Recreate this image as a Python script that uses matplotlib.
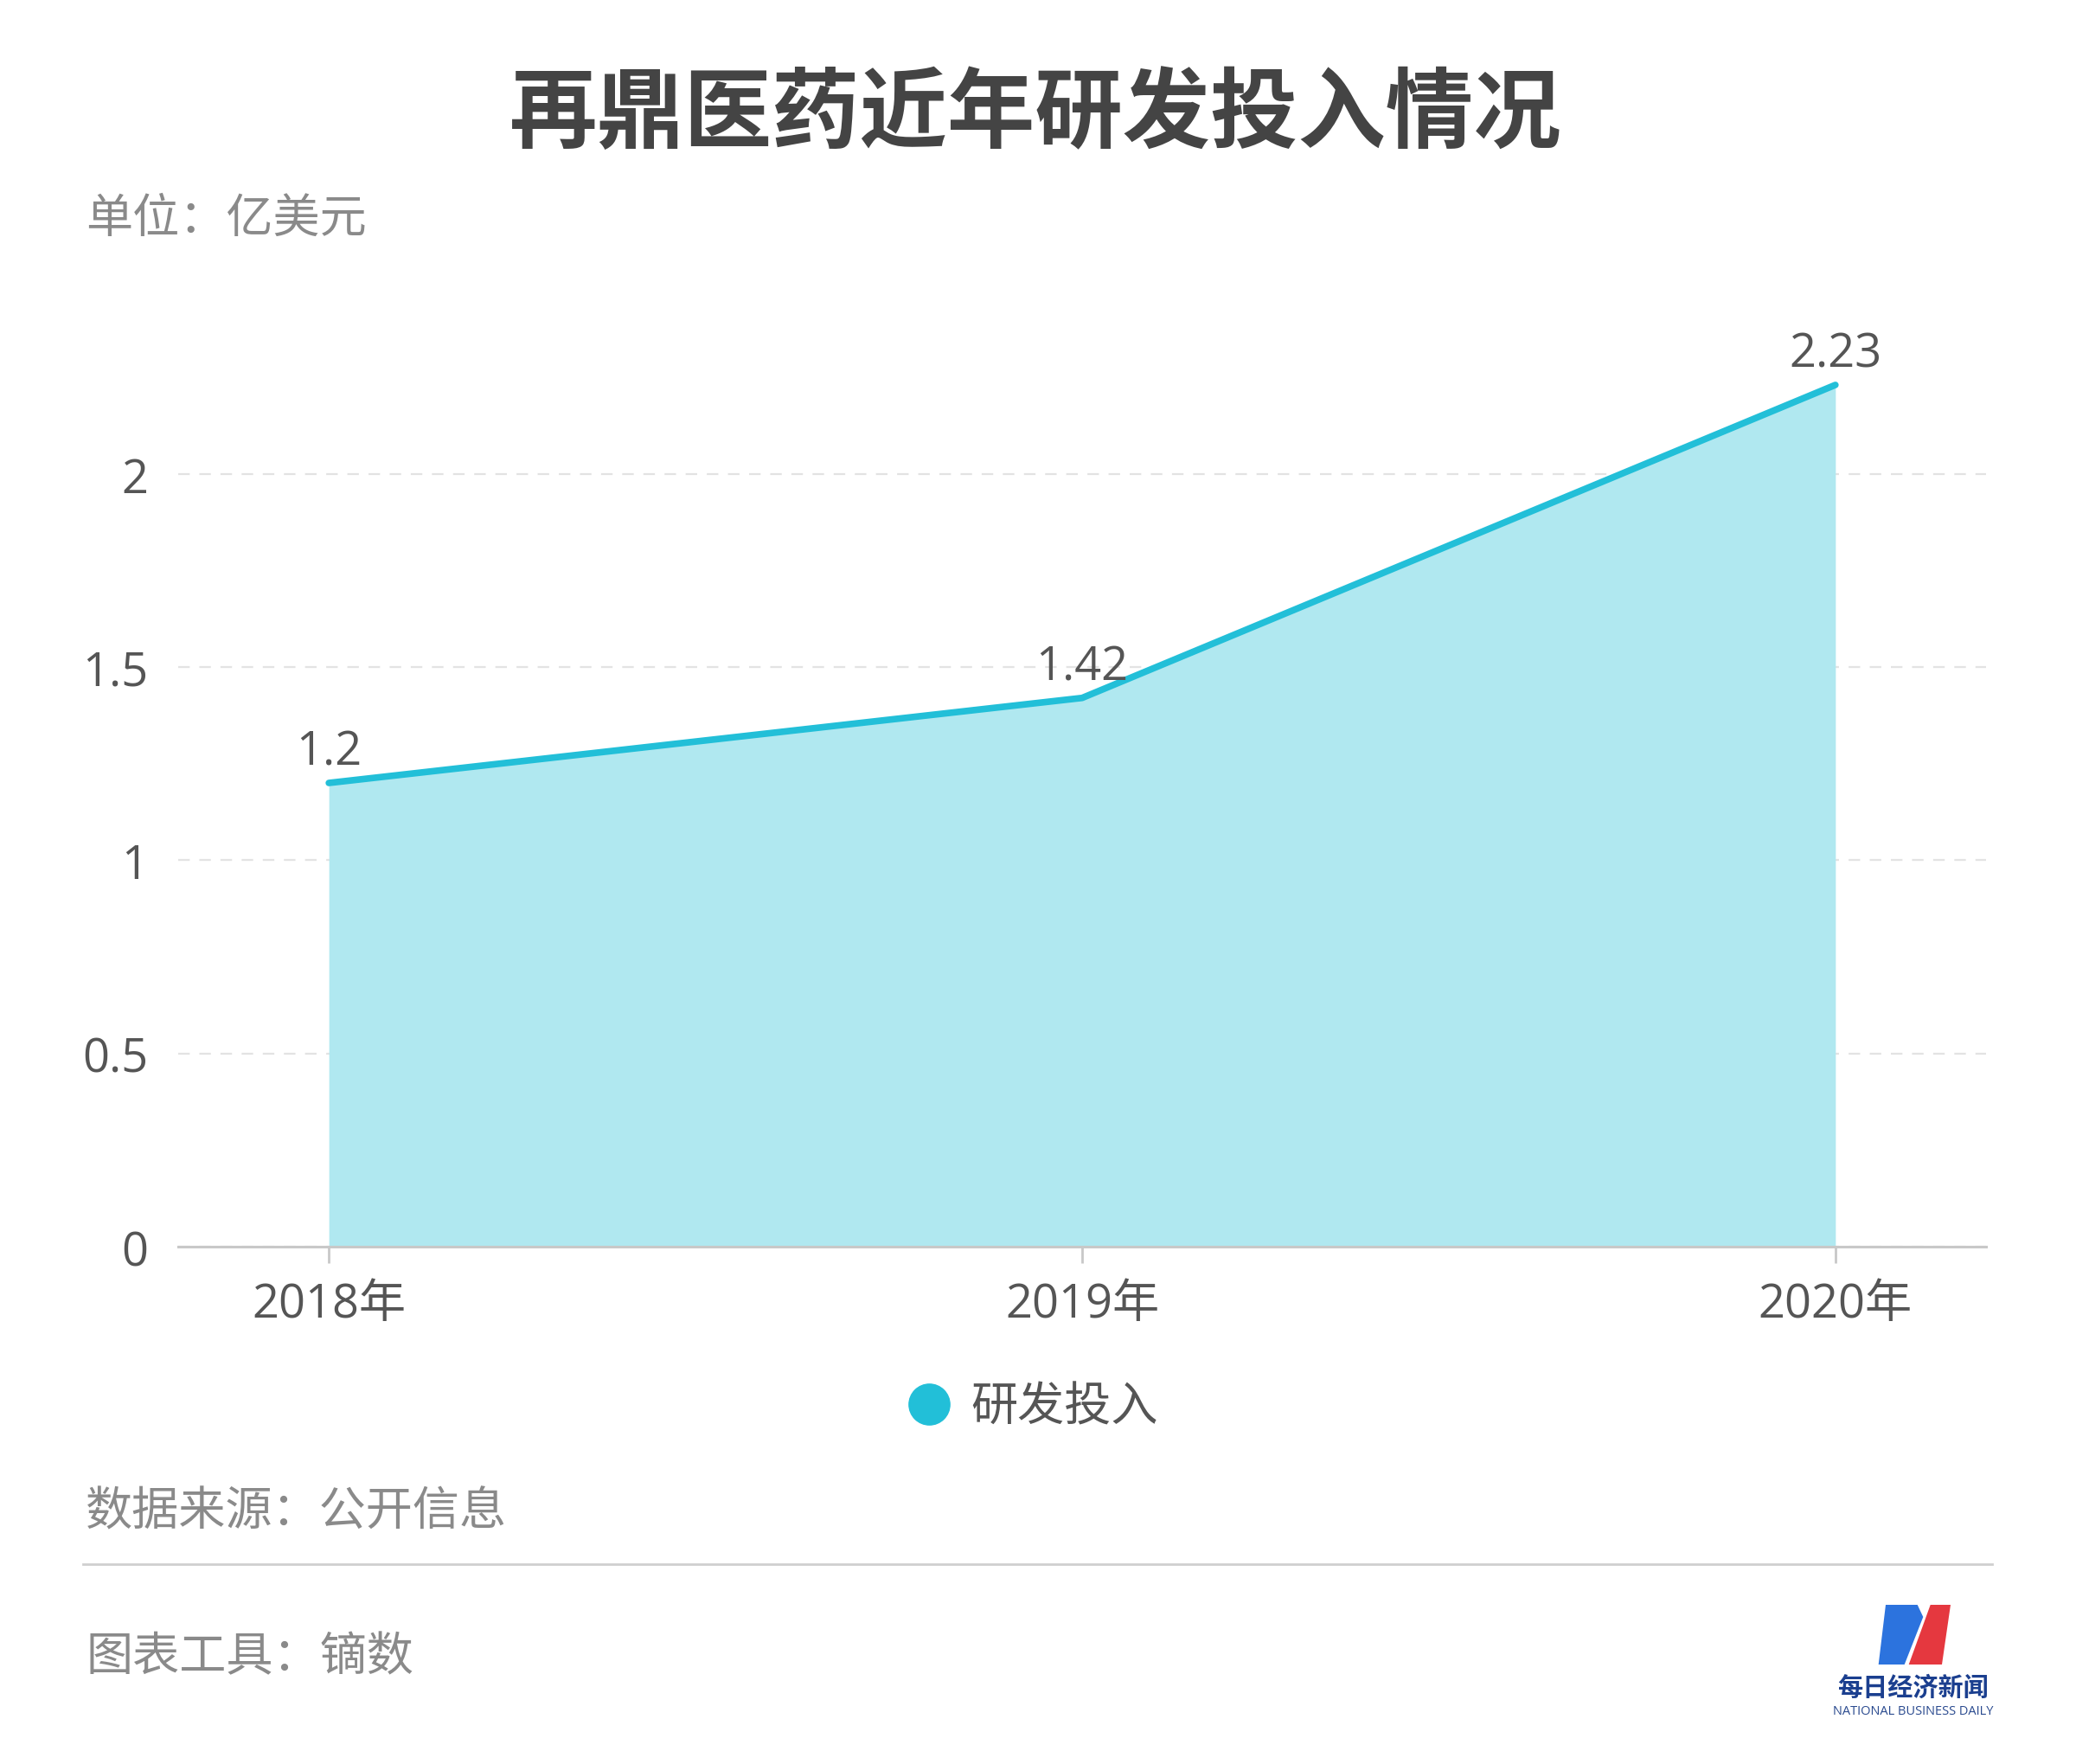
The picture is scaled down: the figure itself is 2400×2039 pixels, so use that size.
import matplotlib
matplotlib.use('Agg')
import matplotlib.pyplot as plt
from matplotlib.lines import Line2D
from matplotlib.patches import Polygon

plt.rcParams['font.family'] = ['Open Sans', 'Noto Sans CJK SC', 'DejaVu Sans']

# data
years = ['2018年', '2019年', '2020年']
rd_spend = [1.2, 1.42, 2.23]
y_ticks = [0, 0.5, 1, 1.5, 2]
y_tick_labels = ['0', '0.5', '1', '1.5', '2']

W, H = 2400, 2040
line_color = '#22bfd8'
fill_color = '#b0e8f0'
text_dark = '#555555'
text_gray = '#8a8a8a'

def fx(px):
    return px / W

def fy(py):
    return 1 - py / H

fig = plt.figure(figsize=(24, 20.4), dpi=100)
ax = fig.add_axes([fx(206), fy(1442), fx(2296) - fx(206), fy(370) - fy(1442)])

x = list(range(len(years)))
ax.fill_between(x, rd_spend, 0, color=fill_color, lw=0, zorder=1)
ax.plot(x, rd_spend, color=line_color, lw=5.5, zorder=3, solid_capstyle='round')

for xi, v in zip(x, rd_spend):
    ax.annotate(f'{v:g}', (xi, v), xytext=(0, 6), textcoords='offset points',
                ha='center', va='bottom', fontsize=39, color=text_dark)

ax.set_xlim(-0.2, 2.2)
ax.set_ylim(0, 2.4)
ax.set_xticks(x)
ax.set_xticklabels(years, fontsize=39, color=text_dark)
ax.set_yticks(y_ticks)
ax.set_yticklabels(y_tick_labels, fontsize=39, color=text_dark)
ax.tick_params(axis='y', length=0, pad=25)
ax.tick_params(axis='x', length=14, width=2, color='#c8c8c8', pad=14)
for s in ['top', 'right', 'left']:
    ax.spines[s].set_visible(False)
ax.spines['bottom'].set_color('#c8c8c8')
ax.spines['bottom'].set_linewidth(2.2)
ax.yaxis.grid(True, ls=(0, (6, 5)), color='#e3e3e3', lw=1.6, zorder=0)
ax.set_axisbelow(True)

# title and notes
fig.text(0.499, fy(133), '再鼎医药近年研发投入情况', ha='center', va='center',
         fontsize=73, fontweight='bold', color='#444444', family=['Noto Sans CJK SC'])
fig.text(fx(99), fy(253), '单位：亿美元', ha='left', va='center', fontsize=39,
         color=text_gray, family=['Noto Sans CJK SC'])
fig.text(fx(99), fy(1748), '数据来源：公开信息', ha='left', va='center', fontsize=39,
         color=text_gray, family=['Noto Sans CJK SC'])
fig.text(fx(99), fy(1916), '图表工具：镝数', ha='left', va='center', fontsize=39,
         color=text_gray, family=['Noto Sans CJK SC'])
fig.add_artist(Line2D([fx(96), fx(2303)], [fy(1809), fy(1809)], color='#cfcfcf', lw=2))

# legend
handle = Line2D([], [], marker='o', ls='', markersize=34, color=line_color)
fig.legend([handle], ['研发投入'], loc='center', bbox_to_anchor=(0.496, fy(1627)),
           frameon=False, handletextpad=0.3, handlelength=1.2, labelcolor=text_dark,
           prop={'family': ['Noto Sans CJK SC'], 'size': 39})

# logo
blue = [(2180, 1856), (2216.7, 1856), (2223.3, 1870), (2201.7, 1925), (2171.7, 1925)]
red = [(2231.7, 1856), (2255, 1856), (2245, 1925), (2206.7, 1925)]
fig.add_artist(Polygon([(fx(a), fy(b)) for a, b in blue], closed=True,
                       transform=fig.transFigure, color='#2c73de', lw=0))
fig.add_artist(Polygon([(fx(a), fy(b)) for a, b in red], closed=True,
                       transform=fig.transFigure, color='#e5383f', lw=0))
fig.text(fx(2212), fy(1951), '每日经济新闻', ha='center', va='center', fontsize=21,
         fontweight='bold', color='#1b3f8f', family=['Noto Sans CJK SC'])
fig.text(fx(2212), fy(1979), 'NATIONAL BUSINESS DAILY', ha='center', va='center',
         fontsize=10.5, color='#2a4a8f')

fig.savefig('out.png', dpi=100, facecolor='white')
